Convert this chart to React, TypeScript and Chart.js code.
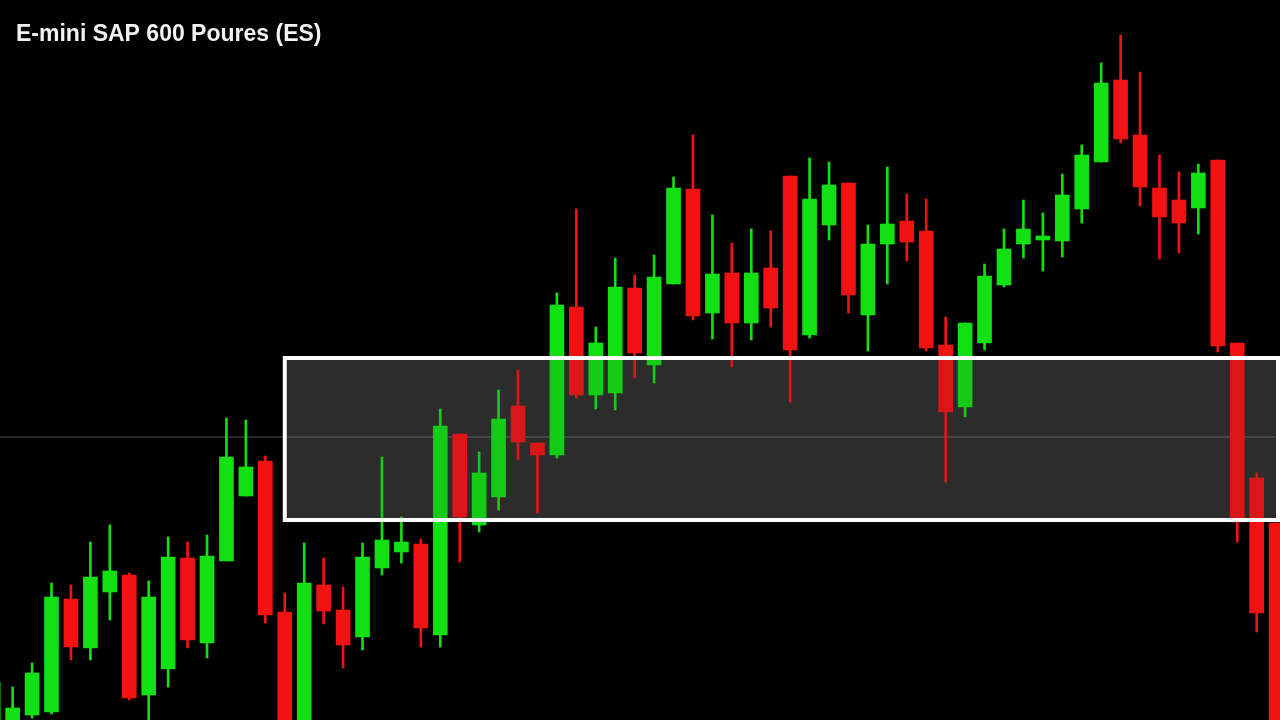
import React, { useEffect, useRef } from "react";
import { Chart, registerables } from "chart.js";

Chart.register(...registerables);

const TITLE = "E-mini SAP 600 Poures (ES)";

// OHLC values per session (index = session number)
const opens = [
  4980, 4995, 5005, 5008, 5121, 5072, 5128, 5145, 5025, 5051,
  5162, 5077, 5159, 5224, 5259, 5108, 4995, 5135, 5110, 5083,
  5152, 5168, 5176, 5085, 5286, 5195, 5223, 5314, 5277, 5265,
  5413, 5325, 5327, 5432, 5355, 5436, 5531, 5407, 5447, 5397,
  5452, 5544, 5385, 5495, 5537, 5405, 5476, 5499, 5489, 5375,
  5313, 5377, 5435, 5476, 5480, 5479, 5511, 5558, 5640, 5585,
  5532, 5520, 5512, 5560, 5377, 5242, 5197,
];
const highs = [
  5038, 5033, 5057, 5137, 5135, 5178, 5195, 5147, 5139, 5183,
  5178, 5185, 5302, 5300, 5264, 5127, 5177, 5162, 5133, 5177,
  5263, 5203, 5181, 5311, 5286, 5268, 5330, 5350, 5277, 5427,
  5511, 5393, 5462, 5445, 5465, 5543, 5585, 5505, 5477, 5491,
  5489, 5544, 5562, 5558, 5537, 5495, 5553, 5526, 5521, 5403,
  5397, 5456, 5491, 5520, 5507, 5546, 5575, 5657, 5685, 5648,
  5565, 5548, 5556, 5560, 5377, 5247, 5197,
];
const lows = [
  4975, 4992, 5002, 5006, 5060, 5060, 5100, 5020, 4998, 5033,
  5072, 5062, 5159, 5224, 5097, 4990, 4990, 5096, 5052, 5070,
  5145, 5157, 5073, 5073, 5158, 5188, 5210, 5260, 5207, 5262,
  5322, 5311, 5310, 5342, 5337, 5436, 5400, 5381, 5353, 5380,
  5393, 5318, 5382, 5480, 5407, 5369, 5436, 5459, 5369, 5238,
  5303, 5370, 5433, 5462, 5449, 5463, 5497, 5558, 5577, 5514,
  5461, 5467, 5486, 5368, 5178, 5088, 4990,
];
const closes = [
  5038, 5012, 5047, 5123, 5073, 5143, 5149, 5022, 5123, 5163,
  5080, 5164, 5263, 5253, 5105, 4995, 5137, 5109, 5075, 5163,
  5180, 5178, 5092, 5294, 5203, 5247, 5301, 5278, 5265, 5415,
  5325, 5377, 5433, 5367, 5443, 5532, 5404, 5446, 5397, 5447,
  5412, 5370, 5521, 5535, 5425, 5476, 5496, 5478, 5372, 5308,
  5397, 5444, 5471, 5491, 5484, 5525, 5565, 5637, 5581, 5533,
  5503, 5497, 5547, 5374, 5198, 5107, 4995,
];

// Highlighted zone and reference level
const LEVEL_PRICE = 5283;
const ZONE_TOP = 5362;
const ZONE_BOTTOM = 5200;
const ZONE_START_INDEX = 15;

const UP = "#12e012";
const DOWN = "#f21212";

export default function App() {
  const ref = useRef<HTMLCanvasElement>(null);

  useEffect(() => {
    document.body.style.margin = "0";
    document.body.style.background = "#000";
    const canvas = ref.current;
    if (!canvas) return;

    const idx = opens.map((_, i) => i);
    const colors = opens.map((o, i) => (closes[i] >= o ? UP : DOWN));

    const deco = {
      id: "deco",
      beforeDraw(chart: any) {
        const { ctx, width, height } = chart;
        ctx.save();
        ctx.fillStyle = "#000";
        ctx.fillRect(0, 0, width, height);
        ctx.restore();
      },
      beforeDatasetsDraw(chart: any) {
        const { ctx, chartArea, scales } = chart;
        const x0 = scales.x.getPixelForValue(ZONE_START_INDEX);
        const x1 = chartArea.right - 2;
        const yTop = scales.y.getPixelForValue(ZONE_TOP);
        const yBot = scales.y.getPixelForValue(ZONE_BOTTOM);
        ctx.save();
        ctx.fillStyle = "#2b2b2b";
        ctx.fillRect(x0, yTop, x1 - x0, yBot - yTop);
        const yl = scales.y.getPixelForValue(LEVEL_PRICE);
        ctx.strokeStyle = "rgba(170,170,170,0.45)";
        ctx.lineWidth = 1.2;
        ctx.beginPath();
        ctx.moveTo(chartArea.left, yl);
        ctx.lineTo(chartArea.right, yl);
        ctx.stroke();
        ctx.restore();
      },
      afterDatasetsDraw(chart: any) {
        const { ctx, chartArea, scales } = chart;
        const x0 = scales.x.getPixelForValue(ZONE_START_INDEX);
        const x1 = chartArea.right - 2;
        const yTop = scales.y.getPixelForValue(ZONE_TOP);
        const yBot = scales.y.getPixelForValue(ZONE_BOTTOM);
        ctx.save();
        ctx.fillStyle = "rgba(60,60,60,0.12)";
        ctx.fillRect(x0, yTop, x1 - x0, yBot - yTop);
        ctx.strokeStyle = "#ffffff";
        ctx.lineWidth = 4;
        ctx.strokeRect(x0, yTop, x1 - x0, yBot - yTop);
        ctx.restore();
      },
      afterDraw(chart: any) {
        const { ctx } = chart;
        ctx.save();
        ctx.fillStyle = "#f2f2f2";
        ctx.font = "bold 23px 'Liberation Sans', Arial, sans-serif";
        ctx.textBaseline = "alphabetic";
        ctx.textAlign = "left";
        ctx.fillText(TITLE, 16, 41);
        ctx.restore();
      },
    };

    const chart = new Chart(canvas, {
      type: "bar",
      data: {
        datasets: [
          {
            label: "wick",
            data: idx.map((i) => ({ x: i, y: [lows[i], highs[i]] })) as any,
            backgroundColor: colors,
            barThickness: 2,
            grouped: false,
            borderWidth: 0,
            order: 2,
          } as any,
          {
            label: "body",
            data: idx.map((i) => ({ x: i, y: [opens[i], closes[i]] })) as any,
            backgroundColor: colors,
            barThickness: 14,
            grouped: false,
            borderWidth: 0,
            order: 1,
          } as any,
        ],
      },
      options: {
        animation: false,
        responsive: false,
        maintainAspectRatio: false,
        events: [],
        layout: { padding: 0 },
        plugins: {
          legend: { display: false },
          tooltip: { enabled: false },
          title: { display: false },
        },
        scales: {
          x: { type: "linear", min: 0.35, max: 66.2, offset: false, bounds: "ticks", display: false },
          y: { type: "linear", min: 5000, max: 5720, display: false },
        },
      } as any,
      plugins: [deco],
    });

    return () => chart.destroy();
  }, []);

  return (
    <div
      style={{
        position: "fixed",
        left: 0,
        top: 0,
        width: 1280,
        height: 720,
        background: "#000",
      }}
    >
      <canvas ref={ref} width={1280} height={720} style={{ display: "block" }} />
    </div>
  );
}
